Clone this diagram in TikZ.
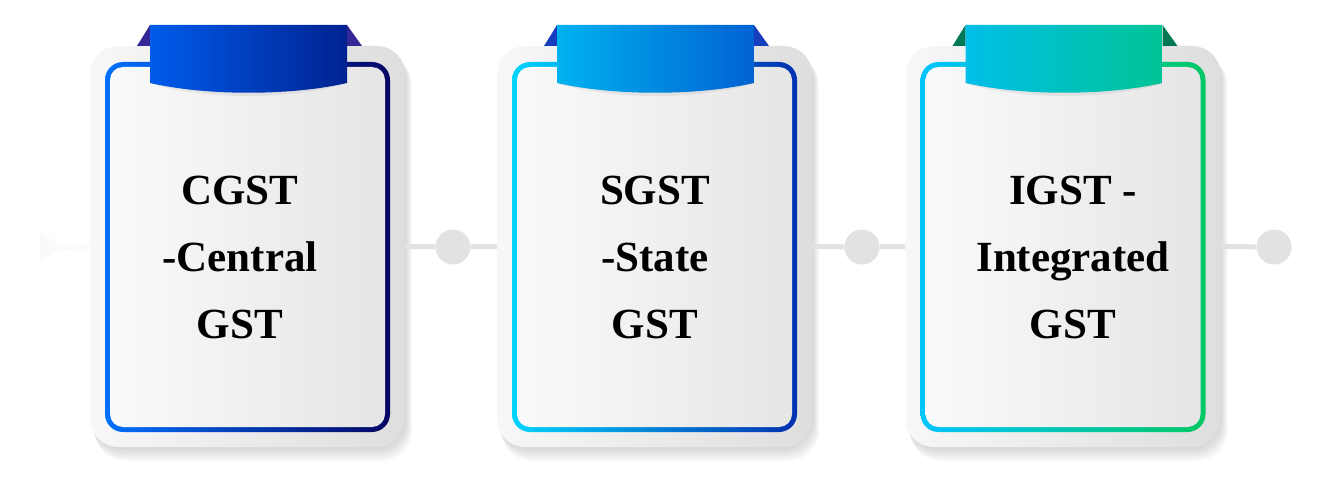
\documentclass[tikz,border=0pt]{standalone}
\usepackage{fontspec}
\setmainfont{Liberation Serif}
\usetikzlibrary{positioning}
% border, tab and ear colours of the three cards
\definecolor{bLa}{RGB}{0,112,255}\definecolor{bRa}{RGB}{6,6,100}
\definecolor{tLa}{RGB}{0,92,235}\definecolor{tRa}{RGB}{0,34,145}
\definecolor{ea}{RGB}{52,40,150}
\definecolor{bLb}{RGB}{0,212,255}\definecolor{bRb}{RGB}{0,48,175}
\definecolor{tLb}{RGB}{0,178,240}\definecolor{tRb}{RGB}{0,98,210}
\definecolor{eb}{RGB}{22,62,190}
\definecolor{bLc}{RGB}{0,196,255}\definecolor{bRc}{RGB}{0,200,100}
\definecolor{tLc}{RGB}{0,190,232}\definecolor{tRc}{RGB}{0,196,150}
\definecolor{ec}{RGB}{0,120,85}
\definecolor{linkgray}{RGB}{226,226,226}
\begin{document}
\begin{tikzpicture}[x=1pt,y=-1pt]
	\tikzset{panel/.style = {rounded corners=28pt,minimum width=315pt,minimum height=401pt,inner sep=0pt,left color=white!97!black,right color=black!13!white}}
	\tikzset{rim/.style = {rounded corners=18pt,minimum width=285pt,minimum height=370pt,inner sep=0pt}}
	\tikzset{face/.style = {rounded corners=13pt,minimum width=275pt,minimum height=360pt,inner sep=0pt,left color=white!98!black,right color=black!10!white}}
	\tikzset{label/.style = {align=center,font=\fontsize{43}{67}\selectfont\bfseries}}
	\tikzset{pin/.style = {circle,fill=linkgray,minimum size=35pt,inner sep=0pt}}
	\tikzset{link/.style = {draw=linkgray,line width=5pt}}
	\useasboundingbox (0,0) rectangle (1317,500);
	\foreach \dx/\n/\tx/\txt in {0/a/-7.5/{CGST\\-Central\\GST}, 407/b/0.5/{SGST\\-State\\GST}, 815.5/c/10/{IGST -\\Integrated\\GST}} {
		\begin{scope}[xshift=\dx]
			% soft shadow
			\foreach \s in {2,4,...,14}
				\fill[black,opacity=0.025,rounded corners=30pt] (90+\s/3,48+\s/2) rectangle (405+\s/2,447+\s);
			\node[panel] (panel\n) at (247.5,246.5) {};
			\node[rim,left color=bL\n,right color=bR\n] (rim\n) at (247.5,247) {};
			\node[face] (face\n) at (247.5,247) {};
			% ribbon
			\fill[e\n] (137,46) -- (150,25) -- (150,46) -- cycle;
			\fill[e\n] (347,25) -- (362,46) -- (347,46) -- cycle;
			\fill[black,opacity=0.06] (152,84) .. controls (207,100) and (290,100) .. (345,84) -- (345,80) -- (152,80) -- cycle;
			\shade[left color=tL\n,right color=tR\n] (150,25) -- (347,25) -- (347,83) .. controls (290,96) and (207,96) .. (150,83) -- cycle;
			\node[label] (text\n) at (247.5+\tx,257) {\txt};
		\end{scope}
	}
	\node[pin] (pinab) at (453,247) {};
	\node[pin] (pinbc) at (862,247) {};
	\node[pin] (pinend) at (1274,247) {};
	\coordinate (start) at (62,247);
	\fill[black!2] (40,232) -- (64,247) -- (40,262) -- cycle;
	\draw[link,draw=black!2] (start) -- (panela.west);
	\draw[link] (panela.east) -- (pinab) -- (panelb.west);
	\draw[link] (panelb.east) -- (pinbc) -- (panelc.west);
	\draw[link] (panelc.east) -- (pinend);
\end{tikzpicture}
\end{document}
